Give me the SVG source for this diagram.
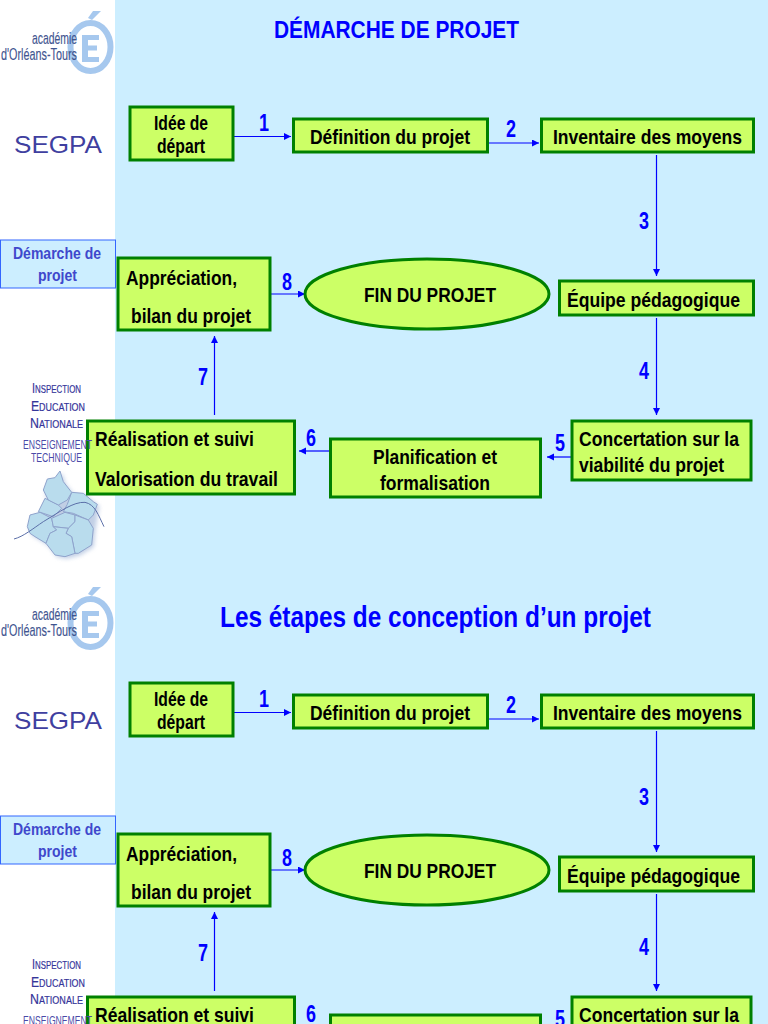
<svg xmlns="http://www.w3.org/2000/svg" width="768" height="1024" viewBox="0 0 768 1024">
<style>
text{font-family:"Liberation Sans",Arial,sans-serif}
.t{font-weight:700;font-size:20.5px;fill:#000;transform:translateY(.7px)}
.n{font-weight:700;font-size:23px;fill:#0000ff}
.box{fill:#ccff66;stroke:#008000;stroke-width:3}
.c{stroke:#0000ff;stroke-width:1.2;fill:none;marker-end:url(#a)}
.seg{font-size:24px;fill:#3f3fa0}
.dm{font-weight:700;font-size:16.5px;fill:#3f48cc}
.sc{font-variant:small-caps;font-size:15px;fill:#35359a;stroke:#35359a;stroke-width:.2}
.et{font-size:12.5px;fill:#4a4aa8}
.lg{font-size:17px;fill:#3f5590;stroke:#3f5590;stroke-width:.15}
.title{font-weight:700;fill:#0000ff}
.dep{fill:#b9dced;stroke:#8fa3cc;stroke-width:3}
</style>
<defs>
<marker id="a" markerWidth="8" markerHeight="8" refX="7" refY="3.5" orient="auto" markerUnits="userSpaceOnUse"><path d="M0 0L7 3.5L0 7Z" fill="#0000ff"/></marker>
<filter id="soft" x="-20%" y="-20%" width="140%" height="140%"><feGaussianBlur stdDeviation="6"/></filter>
<g id="emblem">
<ellipse cx="90.500" cy="47" rx="20" ry="24" fill="#fff" stroke="#a6c8ee" stroke-width="6"/>
<path d="M82 35H99V40H88V45.500H97V50.500H88V57H99V62H82Z" fill="#a6c8ee"/>
<path d="M88 18L93 11H101L92 20Z" fill="#a6c8ee"/>
</g>
<g id="map">
<g transform="translate(10,465) scale(.3333)">
<path d="M150 18L160 50L185 82L220 85L262 118L250 190L245 240L205 265L165 275L135 270L108 235L60 205L52 185L60 150L90 142L105 100L100 75L112 42L135 38Z" fill="#8fa8d0" opacity=".55" filter="url(#soft)" transform="translate(6,6)"/>
<path class="dep" d="M105 100L145 120L155 130L130 155L85 140Z"/>
<path class="dep" d="M185 82L220 85L250 110L262 118L250 150L235 165L190 145L160 140L172 118Z"/>
<path class="dep" d="M150 18L160 50L185 82L172 105L145 120L115 105L100 75L112 42L135 38Z"/>
<path class="dep" d="M60 150L90 142L125 160L130 185L140 195L120 205L108 235L75 215L60 205L52 185Z"/>
<path class="dep" d="M125 160L165 142L195 150L195 170L175 190L130 185Z"/>
<path class="dep" d="M195 150L235 165L250 190L245 240L205 265L195 265L185 215L168 205L175 190L195 170Z"/>
<path class="dep" d="M130 185L175 190L168 205L185 215L195 265L165 275L135 270L108 235L120 205L140 195Z"/>
<path d="M12 222C40 215 70 190 100 170C150 140 190 110 225 112C255 118 265 150 282 185" fill="none" stroke="#5a6ea8" stroke-width="3"/>
</g>
</g>
</defs>
<rect width="768" height="1024" fill="#fff"/>
<rect x="115" width="653" height="1024" fill="#cceeff"/>

<g id="slide1-side">
<use href="#emblem"/>
<text class="lg" x="32" y="44" textLength="45" lengthAdjust="spacingAndGlyphs">académie</text>
<text class="lg" x="1" y="60" textLength="76" lengthAdjust="spacingAndGlyphs">d'Orléans-Tours</text>
<text class="seg" x="14" y="153" textLength="88" lengthAdjust="spacingAndGlyphs">SEGPA</text>
<g id="s1-demarche"><rect x="0.5" y="240" width="115" height="48" fill="#cceeff" stroke="#3366ff"/>
<text class="dm" x="13" y="259" textLength="88" lengthAdjust="spacingAndGlyphs">Démarche de</text>
<text class="dm" x="38" y="281" textLength="39" lengthAdjust="spacingAndGlyphs">projet</text></g>
<text class="sc" x="32" y="393" textLength="49" lengthAdjust="spacingAndGlyphs">Inspection</text>
<text class="sc" x="31" y="411" textLength="54" lengthAdjust="spacingAndGlyphs">Education</text>
<text class="sc" x="30" y="428" textLength="53" lengthAdjust="spacingAndGlyphs">Nationale</text>
<text class="et" x="31" y="462" textLength="51" lengthAdjust="spacingAndGlyphs">TECHNIQUE</text>
<use href="#map"/>
</g>
<text id="title1" class="title" x="274" y="38" font-size="24" textLength="245" lengthAdjust="spacingAndGlyphs">DÉMARCHE DE PROJET</text>
<g id="connectors1">
<line class="c" x1="234" y1="136.5" x2="291" y2="136.5"/>
<line class="c" x1="488" y1="143" x2="539" y2="143"/>
<line class="c" x1="656.5" y1="155" x2="656.5" y2="276"/>
<line class="c" x1="656.5" y1="318" x2="656.5" y2="415"/>
<line class="c" x1="573" y1="457" x2="547" y2="457"/>
<line class="c" x1="330" y1="451" x2="299" y2="451"/>
<line class="c" x1="214.5" y1="415" x2="214.5" y2="336"/>
<line class="c" x1="270" y1="294" x2="305" y2="294"/>
<text class="n" x="259" y="131" textLength="10" lengthAdjust="spacingAndGlyphs">1</text><text class="n" x="506" y="137" textLength="10" lengthAdjust="spacingAndGlyphs">2</text><text class="n" x="639" y="229" textLength="10" lengthAdjust="spacingAndGlyphs">3</text><text class="n" x="639" y="379" textLength="10" lengthAdjust="spacingAndGlyphs">4</text><text class="n" x="555" y="451" textLength="10" lengthAdjust="spacingAndGlyphs">5</text><text class="n" x="306" y="446" textLength="10" lengthAdjust="spacingAndGlyphs">6</text><text class="n" x="198" y="385" textLength="10" lengthAdjust="spacingAndGlyphs">7</text><text class="n" x="282" y="290" textLength="10" lengthAdjust="spacingAndGlyphs">8</text>
</g>
<g id="s1-idee"><rect class="box" x="130" y="107" width="103" height="53"/><text class="t" x="154" y="129" textLength="54" lengthAdjust="spacingAndGlyphs">Idée de</text><text class="t" x="157" y="152" textLength="48" lengthAdjust="spacingAndGlyphs">départ</text></g>
<g id="s1-definition"><rect class="box" x="293.500" y="119" width="194" height="33"/><text class="t" x="310" y="143" textLength="160" lengthAdjust="spacingAndGlyphs">Définition du projet</text></g>
<g id="s1-inventaire"><rect class="box" x="541.500" y="119" width="212" height="33"/><text class="t" x="553" y="143" textLength="189" lengthAdjust="spacingAndGlyphs">Inventaire des moyens</text></g>
<g id="s1-appreciation"><rect class="box" x="118" y="258" width="152" height="72"/><text class="t" x="126" y="284" textLength="111" lengthAdjust="spacingAndGlyphs">Appréciation,</text><text class="t" x="131" y="322" textLength="120" lengthAdjust="spacingAndGlyphs">bilan du projet</text></g>
<g id="s1-fin"><ellipse class="box" cx="427" cy="294" rx="122" ry="35"/><text class="t" x="364" y="301" textLength="132" lengthAdjust="spacingAndGlyphs">FIN DU PROJET</text></g>
<g id="s1-equipe"><rect class="box" x="559.500" y="281" width="194" height="34"/><text class="t" x="567" y="306" textLength="173" lengthAdjust="spacingAndGlyphs">Équipe pédagogique</text></g>
<g id="s1-concertation"><rect class="box" x="572" y="421" width="179" height="59"/><text class="t" x="579" y="445" textLength="160" lengthAdjust="spacingAndGlyphs">Concertation sur la</text><text class="t" x="579" y="471" textLength="145" lengthAdjust="spacingAndGlyphs">viabilité du projet</text></g>
<g id="s1-planification"><rect class="box" x="330.500" y="439" width="210" height="58"/><text class="t" x="373" y="463" textLength="124" lengthAdjust="spacingAndGlyphs">Planification et</text><text class="t" x="380" y="489" textLength="110" lengthAdjust="spacingAndGlyphs">formalisation</text></g>
<g id="s1-realisation"><rect class="box" x="87.500" y="421" width="207" height="73"/><text class="t" x="95" y="445" textLength="159" lengthAdjust="spacingAndGlyphs">Réalisation et suivi</text><text class="t" x="95" y="485" textLength="183" lengthAdjust="spacingAndGlyphs">Valorisation du travail</text></g>
<text class="et" x="23" y="449" textLength="69" lengthAdjust="spacingAndGlyphs">ENSEIGNEMENT</text>

<g id="slide2" transform="translate(0,576)">
<g id="slide2-side">
<use href="#emblem"/>
<text class="lg" x="32" y="44" textLength="45" lengthAdjust="spacingAndGlyphs">académie</text>
<text class="lg" x="1" y="60" textLength="76" lengthAdjust="spacingAndGlyphs">d'Orléans-Tours</text>
<text class="seg" x="14" y="153" textLength="88" lengthAdjust="spacingAndGlyphs">SEGPA</text>
<g id="s2-demarche"><rect x="0.5" y="240" width="115" height="48" fill="#cceeff" stroke="#3366ff"/>
<text class="dm" x="13" y="259" textLength="88" lengthAdjust="spacingAndGlyphs">Démarche de</text>
<text class="dm" x="38" y="281" textLength="39" lengthAdjust="spacingAndGlyphs">projet</text></g>
<text class="sc" x="32" y="393" textLength="49" lengthAdjust="spacingAndGlyphs">Inspection</text>
<text class="sc" x="31" y="411" textLength="54" lengthAdjust="spacingAndGlyphs">Education</text>
<text class="sc" x="30" y="428" textLength="53" lengthAdjust="spacingAndGlyphs">Nationale</text>
</g>
<text id="title2" class="title" x="220" y="51" font-size="29" textLength="431" lengthAdjust="spacingAndGlyphs">Les étapes de conception d’un projet</text>
<g id="connectors2">
<line class="c" x1="234" y1="136.5" x2="291" y2="136.5"/>
<line class="c" x1="488" y1="143" x2="539" y2="143"/>
<line class="c" x1="656.5" y1="155" x2="656.5" y2="276"/>
<line class="c" x1="656.5" y1="318" x2="656.5" y2="415"/>
<line class="c" x1="214.5" y1="415" x2="214.5" y2="336"/>
<line class="c" x1="270" y1="294" x2="305" y2="294"/>
<text class="n" x="259" y="131" textLength="10" lengthAdjust="spacingAndGlyphs">1</text><text class="n" x="506" y="137" textLength="10" lengthAdjust="spacingAndGlyphs">2</text><text class="n" x="639" y="229" textLength="10" lengthAdjust="spacingAndGlyphs">3</text><text class="n" x="639" y="379" textLength="10" lengthAdjust="spacingAndGlyphs">4</text><text class="n" x="555" y="451" textLength="10" lengthAdjust="spacingAndGlyphs">5</text><text class="n" x="306" y="446" textLength="10" lengthAdjust="spacingAndGlyphs">6</text><text class="n" x="198" y="385" textLength="10" lengthAdjust="spacingAndGlyphs">7</text><text class="n" x="282" y="290" textLength="10" lengthAdjust="spacingAndGlyphs">8</text>
</g>
<g id="s2-idee"><rect class="box" x="130" y="107" width="103" height="53"/><text class="t" x="154" y="129" textLength="54" lengthAdjust="spacingAndGlyphs">Idée de</text><text class="t" x="157" y="152" textLength="48" lengthAdjust="spacingAndGlyphs">départ</text></g>
<g id="s2-definition"><rect class="box" x="293.500" y="119" width="194" height="33"/><text class="t" x="310" y="143" textLength="160" lengthAdjust="spacingAndGlyphs">Définition du projet</text></g>
<g id="s2-inventaire"><rect class="box" x="541.500" y="119" width="212" height="33"/><text class="t" x="553" y="143" textLength="189" lengthAdjust="spacingAndGlyphs">Inventaire des moyens</text></g>
<g id="s2-appreciation"><rect class="box" x="118" y="258" width="152" height="72"/><text class="t" x="126" y="284" textLength="111" lengthAdjust="spacingAndGlyphs">Appréciation,</text><text class="t" x="131" y="322" textLength="120" lengthAdjust="spacingAndGlyphs">bilan du projet</text></g>
<g id="s2-fin"><ellipse class="box" cx="427" cy="294" rx="122" ry="35"/><text class="t" x="364" y="301" textLength="132" lengthAdjust="spacingAndGlyphs">FIN DU PROJET</text></g>
<g id="s2-equipe"><rect class="box" x="559.500" y="281" width="194" height="34"/><text class="t" x="567" y="306" textLength="173" lengthAdjust="spacingAndGlyphs">Équipe pédagogique</text></g>
<g id="s2-concertation"><rect class="box" x="572" y="421" width="179" height="59"/><text class="t" x="579" y="445" textLength="160" lengthAdjust="spacingAndGlyphs">Concertation sur la</text></g>
<g id="s2-planification"><rect class="box" x="330.500" y="439" width="210" height="58"/></g>
<g id="s2-realisation"><rect class="box" x="87.500" y="421" width="207" height="73"/><text class="t" x="95" y="445" textLength="159" lengthAdjust="spacingAndGlyphs">Réalisation et suivi</text></g>
<text class="et" x="23" y="449" textLength="69" lengthAdjust="spacingAndGlyphs">ENSEIGNEMENT</text>
</g>
</svg>
